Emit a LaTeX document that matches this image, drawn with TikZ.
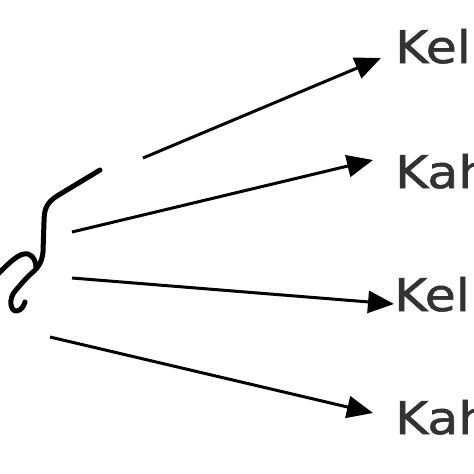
\documentclass[tikz,border=0pt]{standalone}
\usepackage{fontspec}
\setmainfont{DejaVu Sans}
\newfontfamily\woordfont[FakeBold=1.2]{DejaVu Sans}
\usetikzlibrary{arrows.meta}

\begin{document}
\begin{tikzpicture}[x=1pt,y=-1pt,font=\woordfont\fontsize{45}{54}\selectfont,
   pijl/.style={-{Triangle[length=26pt,width=22pt]},line width=3pt},
   woord/.style={anchor=base west,inner sep=0pt,text=black!80,xscale=1.12,transform shape}]
   \useasboundingbox (0,0) rectangle (474,474);
   \clip (0,0) rectangle (474,474);
   \fill[white] (0,0) rectangle (474,474);
   % het teken links
   \draw[line width=5pt,line cap=round,line join=round]
      (100,170) -- (57,196) .. controls (46,203) and (44,210) .. (44,222) -- (43,252)
      .. controls (42,262) and (38,268) .. (33,272) .. controls (28,276) and (22,283) .. (16,290)
      .. controls (8,298) and (10,312) .. (17,311) .. controls (22,310) and (24,305) .. (25,302);
   \draw[line width=5pt,line cap=round]
      (-2,274) .. controls (10,262) and (20,252) .. (28,254) .. controls (34,256) and (36,262) .. (36,268);
   % woorden rechts
   \node[woord] (kel1) at (395,63)  {Kel};
   \node[woord] (kah1) at (395,188) {Kah};
   \node[woord] (kel2) at (394,311) {Kel};
   \node[woord] (kah2) at (395,434) {Kah};
   % begin- en eindpunten van de pijlen
   \coordinate (van1) at (143,158);  \coordinate (naar1) at (381,58);
   \coordinate (van2) at (72,232);   \coordinate (naar2) at (373,160);
   \coordinate (van3) at (72,278);   \coordinate (naar3) at (394,304);
   \coordinate (van4) at (50,337);   \coordinate (naar4) at (373,413);
   \draw[pijl] (van1) -- (naar1);
   \draw[pijl] (van2) -- (naar2);
   \draw[pijl] (van3) -- (naar3);
   \draw[pijl] (van4) -- (naar4);
\end{tikzpicture}
\end{document}
